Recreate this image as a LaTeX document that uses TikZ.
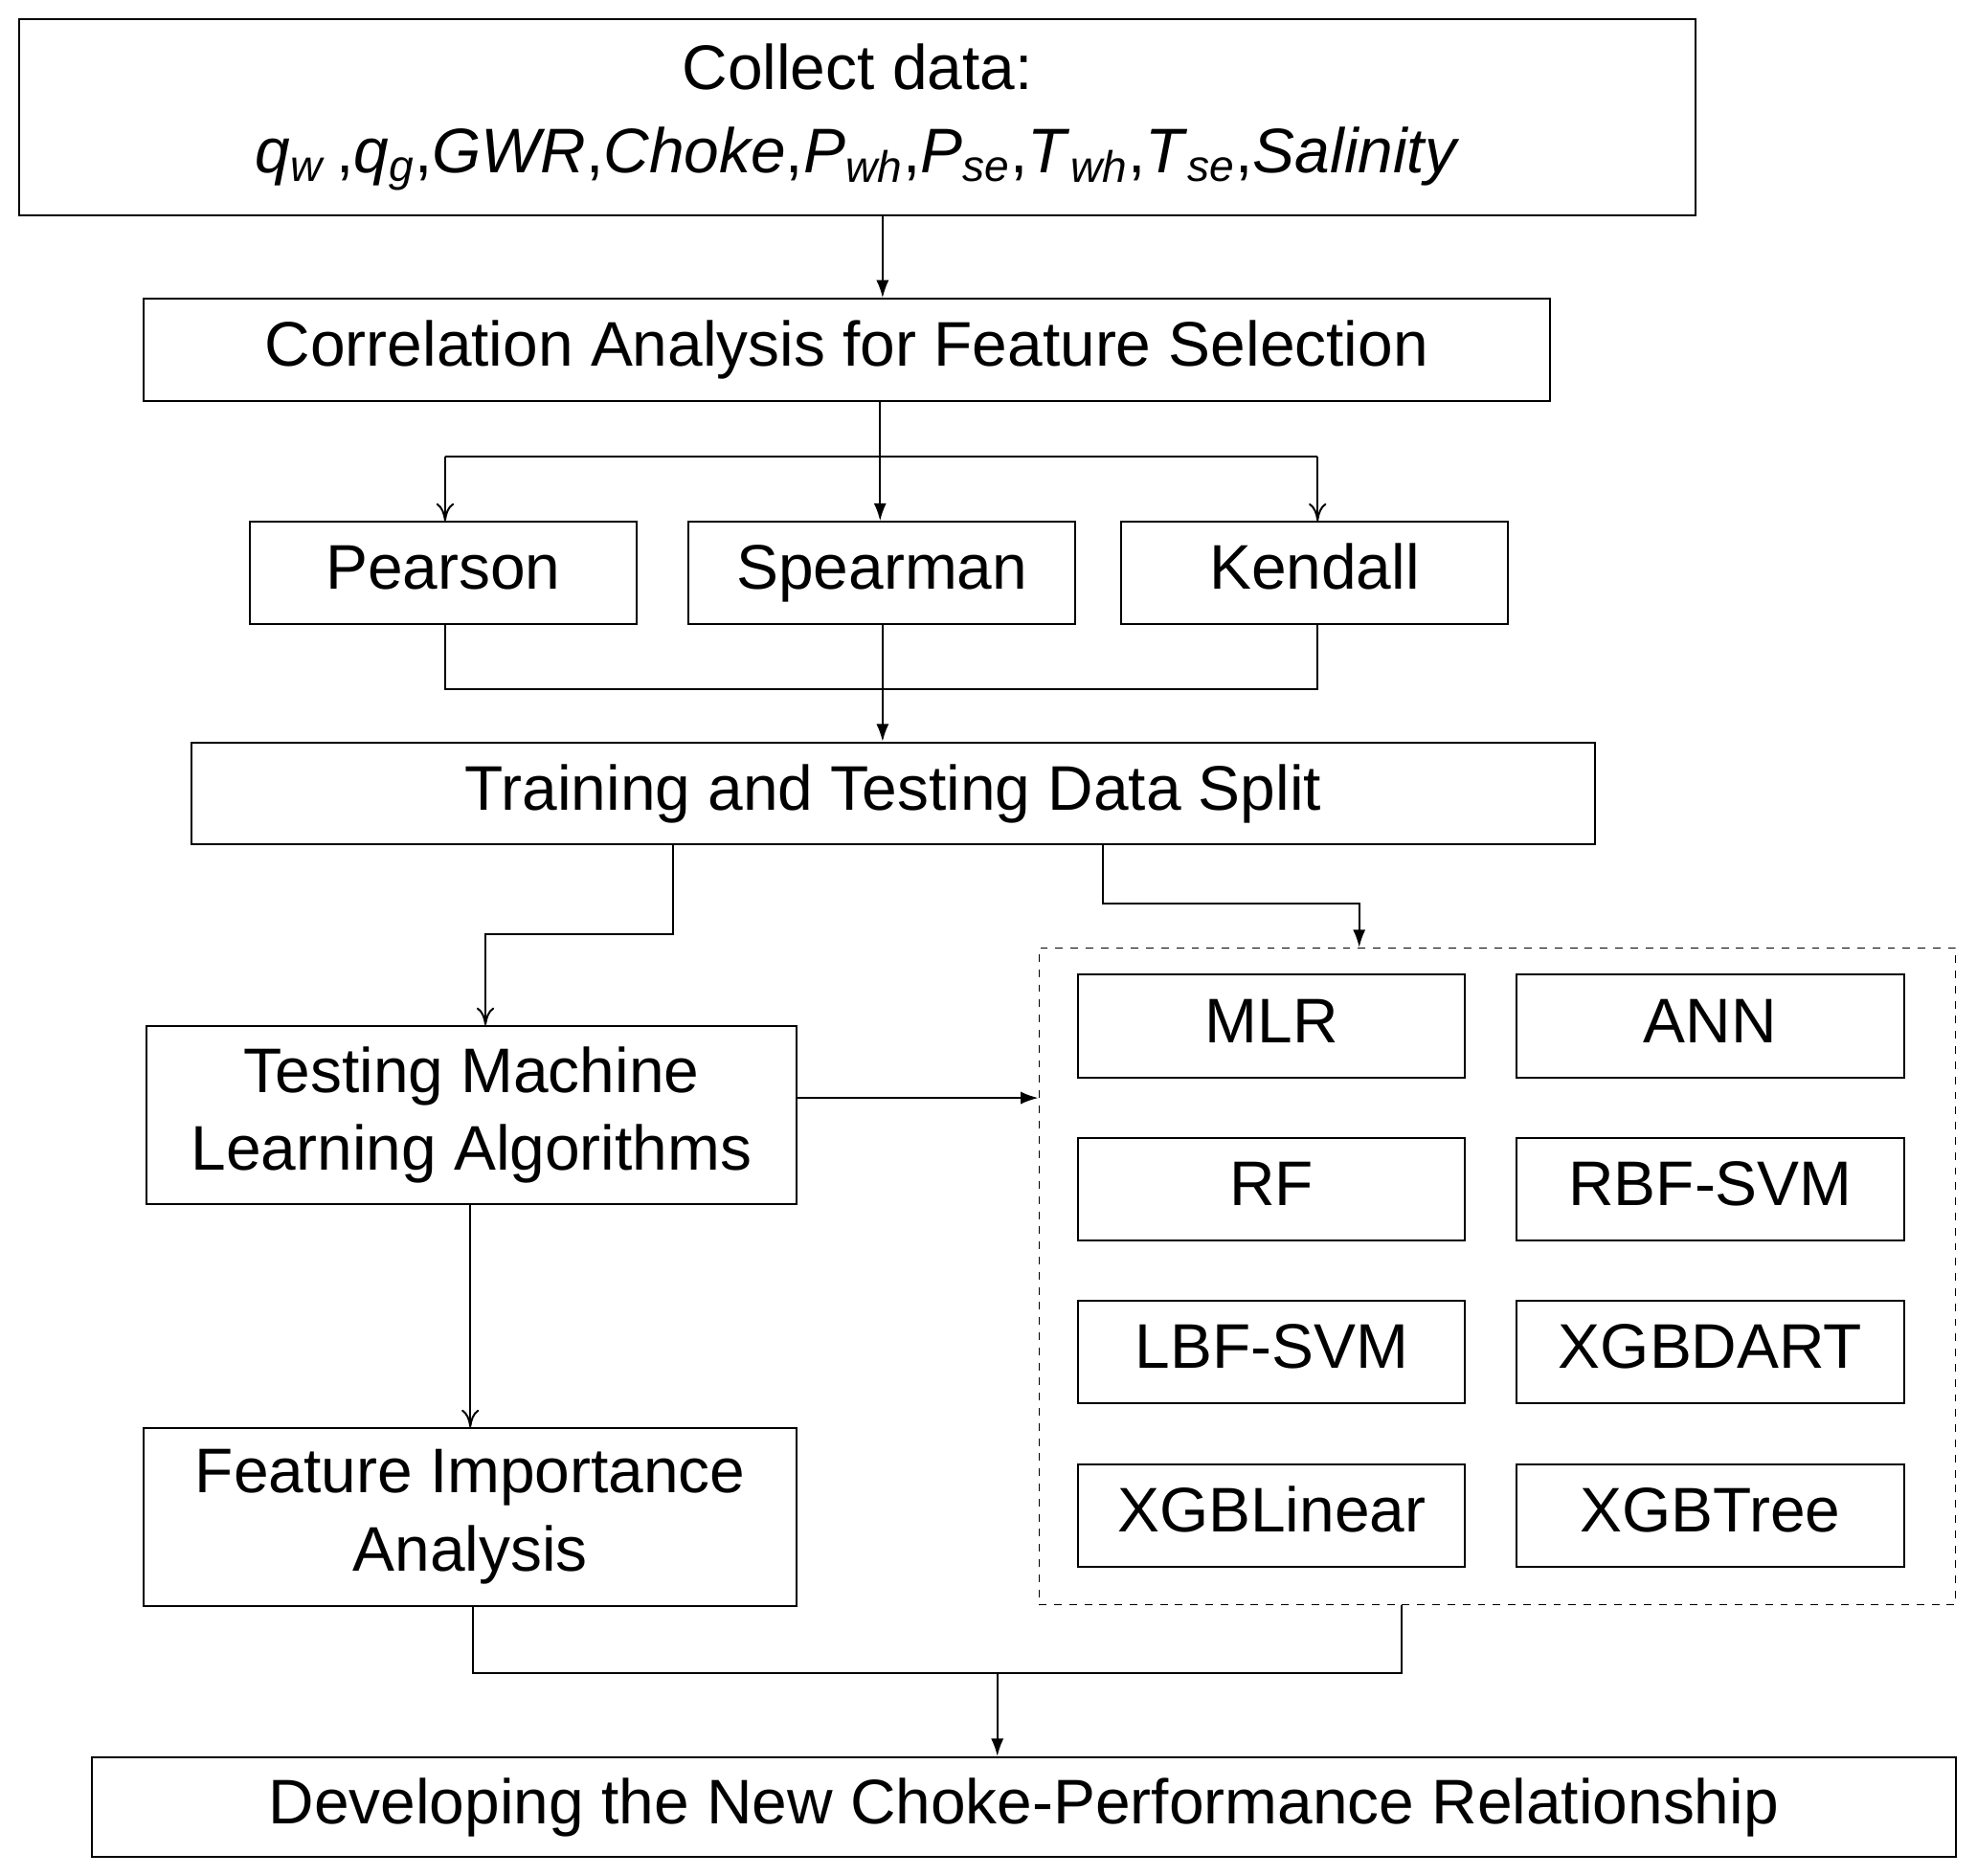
\documentclass[tikz,border=0pt]{standalone}
\usepackage{fontspec}
\setmainfont{Liberation Sans}
\usetikzlibrary{arrows.meta}
\tikzset{every picture/.style={line width=0.75pt}}
\tikzset{box/.style={draw,rectangle,inner sep=0pt,align=center,font=\fontsize{25}{31}\selectfont},
  line/.style={box,text height=18pt,text depth=5pt},
  tip/.style={-{Latex[length=7pt,width=5pt]}},
  vtip/.style={-{To[length=7pt,width=7pt]}}}

\begin{document}
\begin{tikzpicture}[x=0.5pt,y=0.5pt,yscale=-1,xscale=1]
\useasboundingbox (0,0) rectangle (1568,1488);

%Shape: Rectangle [id:collect]
\node [box,minimum width=665pt,minimum height=78pt] (collect) at (680,93) {Collect data:\\[2pt]
\textit{q}\textsubscript{\textit{w}}\,,\textit{q}\textsubscript{\textit{g}},\textit{GWR},\textit{Choke},\textit{P}\textsubscript{\textit{wh}},\textit{P}\textsubscript{\textit{se}},\textit{T}\textsubscript{\textit{wh}},\textit{T}\textsubscript{\textit{se}},\textit{Salinity}};
%Shape: Rectangle [id:corr]
\node [line,minimum width=557.5pt,minimum height=40.5pt] (corr) at (671.5,277.5) {Correlation Analysis for Feature Selection};
%Shape: Rectangle [id:pearson]
\node [line,minimum width=153.5pt,minimum height=40.5pt] (pearson) at (351.5,454.5) {Pearson};
\node [line,minimum width=153.5pt,minimum height=40.5pt] (spearman) at (699.5,454.5) {Spearman};
\node [line,minimum width=153.5pt,minimum height=40.5pt] (kendall) at (1042.5,454.5) {Kendall};
%Shape: Rectangle [id:split]
\node [line,minimum width=556.5pt,minimum height=40.5pt] (split) at (708.5,629.5) {Training and Testing Data Split};
%Shape: Rectangle [id:testing]
\node [box,minimum width=258pt,minimum height=70.5pt] (testing) at (374,884.5) {Testing Machine\\Learning Algorithms};
\node [box,minimum width=259pt,minimum height=70.5pt] (feature) at (373,1203.5) {Feature Importance\\Analysis};
%Shape: Rectangle [id:algos] dashed
\node [draw,dashed,line width=0.5pt,minimum width=363.5pt,minimum height=260.5pt,inner sep=0pt] (algos) at (1187.5,1012.5) {};
\node [line,minimum width=153.5pt,minimum height=41pt] (mlr) at (1008.5,814) {MLR};
\node [line,minimum width=153.5pt,minimum height=41pt] (ann) at (1356.5,814) {ANN};
\node [line,minimum width=153.5pt,minimum height=40.5pt] (rf) at (1008.5,943.5) {RF};
\node [line,minimum width=153.5pt,minimum height=40.5pt] (rbf) at (1356.5,943.5) {RBF-SVM};
\node [line,minimum width=153.5pt,minimum height=40.5pt] (lbf) at (1008.5,1072.5) {LBF-SVM};
\node [line,minimum width=153.5pt,minimum height=40.5pt] (xgbdart) at (1356.5,1072.5) {XGBDART};
\node [line,minimum width=153.5pt,minimum height=40.5pt] (xgblin) at (1008.5,1202.5) {XGBLinear};
\node [line,minimum width=153.5pt,minimum height=40.5pt] (xgbtree) at (1356.5,1202.5) {XGBTree};
%Shape: Rectangle [id:develop]
\node [line,minimum width=739pt,minimum height=39.5pt] (develop) at (812,1433.5) {Developing the New Choke-Performance Relationship};

%Straight Lines
\draw [tip] (collect.south -| 700,0) -- (corr.north -| 700,0);
\draw [tip] (corr.south -| 698,0) -- (spearman.north -| 698,0);
\draw (353,362) -- (1045,362);
\draw [vtip] (353,362) -- (pearson.north -| 353,0);
\draw [vtip] (1045,362) -- (kendall.north -| 1045,0);
\draw (pearson.south -| 353,0) -- (353,547) -- (1045,547) -- (kendall.south -| 1045,0);
\draw [tip] (spearman.south -| 700,0) -- (split.north -| 700,0);
\draw [vtip] (split.south -| 534,0) -- (534,741) -- (385,741) -- (testing.north -| 385,0);
\draw [tip] (split.south -| 875,0) -- (875,717) -- (1078,717) -- (algos.north -| 1078,0);
\draw [tip] (testing.east |- 0,871) -- (algos.west |- 0,871);
\draw [vtip] (testing.south -| 373,0) -- (feature.north -| 373,0);
\draw (feature.south -| 375,0) -- (375,1327) -- (1112,1327) -- (algos.south -| 1112,0);
\draw [tip] (791,1327) -- (develop.north -| 791,0);

\end{tikzpicture}
\end{document}
